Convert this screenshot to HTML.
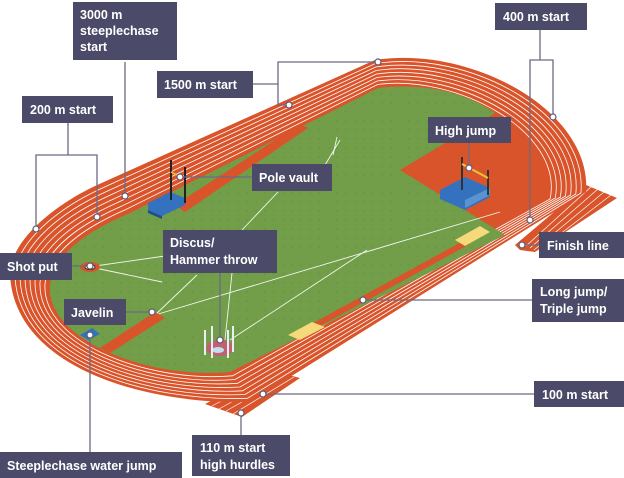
<!DOCTYPE html>
<html><head><meta charset="utf-8"><style>
html,body{margin:0;padding:0;background:#fff;width:624px;height:478px;overflow:hidden}
svg{display:block}
.lb{fill:#4b4a68}
.t{font-family:"Liberation Sans",sans-serif;font-weight:bold;font-size:12.5px;fill:#fff}
.c{stroke:#6b6a85;stroke-width:1.3;fill:none}
.d{fill:#fff;stroke:#5b5a78;stroke-width:1.2}
</style></head><body>
<svg width="624" height="478" viewBox="0 0 624 478" xmlns="http://www.w3.org/2000/svg">
<defs>
<pattern id="dots" width="9" height="9" patternUnits="userSpaceOnUse">
<rect width="9" height="9" fill="#729e49"/><circle cx="4" cy="4" r="0.6" fill="#5d8a38"/>
</pattern>
</defs>
<!-- extensions -->
<polygon points="515,245 586,185 617,198 535,252 520,250" fill="#d9542a"/>
<polygon points="205,404 270,370 300,378 242,417" fill="#d9542a"/>
<g stroke="#fff" stroke-width="0.7" fill="none">
<line x1="592" y1="186" x2="526" y2="246"/><line x1="598" y1="189" x2="530" y2="248"/><line x1="604" y1="192" x2="534" y2="250"/><line x1="611" y1="195" x2="538" y2="251"/>
<line x1="212" y1="406" x2="276" y2="372"/><line x1="219" y1="409" x2="282" y2="374"/><line x1="226" y1="411" x2="288" y2="376"/><line x1="233" y1="414" x2="294" y2="377"/>
</g>
<!-- track -->
<path d="M95 186 L375 60 C470 45 592 110 586 192 L250 402 C150 405 15 370 10 275 C10 240 55 205 95 186 Z" fill="#d9542a"/>
<g id="lanes" stroke="#fff" stroke-width="0.8" fill="none"></g>
<!-- field -->
<path d="M130 213 L378 88 C430 82 470 95 495 113 L400 170 L505 235 L230 372 C150 380 45 340 50 285 C55 250 95 228 130 213 Z" fill="url(#dots)"/>
<!-- sector lines -->
<g stroke="#fff" stroke-width="0.9" fill="none" opacity="0.9">
<line x1="95" y1="266" x2="165" y2="256"/><line x1="95" y1="268" x2="162" y2="282"/>
<line x1="155" y1="315" x2="500" y2="212"/><line x1="155" y1="315" x2="197" y2="275"/>
<line x1="225" y1="340" x2="232" y2="273"/><line x1="230" y1="340" x2="367" y2="250"/>
<line x1="242" y1="230" x2="278" y2="192"/><line x1="337" y1="137" x2="333" y2="155"/>
<line x1="310" y1="190" x2="340" y2="140"/>
</g>
<!-- pole vault runway -->
<polygon points="175,205 300,124 308,128 185,212" fill="#d9542a"/>
<polygon points="148,203 170,192 185,198 185,205 162,216 148,210" fill="#3472c0"/>
<polygon points="148,210 162,216 162,219 148,213" fill="#1f4f8c"/>
<line x1="171" y1="160" x2="171" y2="200" stroke="#222" stroke-width="2"/>
<line x1="185" y1="167" x2="185" y2="203" stroke="#222" stroke-width="2"/>
<line x1="171" y1="172" x2="183" y2="178" stroke="#f4c230" stroke-width="1.5"/>
<!-- javelin runway -->
<polygon points="100,348 155,312 165,318 110,353" fill="#d9542a"/>
<polygon points="80,335 92,328 100,334 88,340" fill="#3472c0"/>
<!-- shot put -->
<ellipse cx="90" cy="267" rx="10" ry="5" fill="#d9542a"/><ellipse cx="90" cy="267" rx="5" ry="2.5" fill="#fff" stroke="#333" stroke-width="1"/>
<!-- long jump -->
<polygon points="295,333 465,240 470,244 300,337" fill="#d9542a"/>
<polygon points="288,335 312,322 325,327 300,340" fill="#f5d97a"/>
<polygon points="455,240 480,226 490,232 465,246" fill="#f5d97a"/>
<!-- high jump -->
<polygon points="440,190 465,177 490,188 490,197 465,210 440,199" fill="#3472c0"/>
<polygon points="465,200 490,188 490,195 465,208" fill="#5a94d0"/>
<line x1="462" y1="157" x2="462" y2="190" stroke="#333" stroke-width="2"/>
<line x1="488" y1="170" x2="488" y2="195" stroke="#333" stroke-width="2"/>
<line x1="462" y1="164" x2="488" y2="178" stroke="#f4c230" stroke-width="2"/>
<!-- discus cage -->
<ellipse cx="220" cy="348" rx="14" ry="8" fill="#c06070"/>
<ellipse cx="218" cy="350" rx="6" ry="3" fill="#bfe0ef"/>
<g stroke="#e8f0f4" stroke-width="2"><line x1="205" y1="330" x2="205" y2="355"/><line x1="212" y1="326" x2="212" y2="358"/><line x1="228" y1="330" x2="228" y2="358"/><line x1="233" y1="326" x2="233" y2="352"/></g>
<!-- connectors -->
<g class="c">
<polyline points="125,62 125,196"/>
<polyline points="68,123 68,155"/><polyline points="36,229 36,155 97,155 97,217"/>
<polyline points="253,84 278,84"/><polyline points="289,105 278,105 278,62 378,62"/>
<polyline points="540,30 540,60"/><polyline points="530,220 530,60 553,60 553,117"/>
<polyline points="469,142 469,168"/>
<polyline points="252,177 180,177"/>
<polyline points="220,273 220,340"/>
<polyline points="72,266 90,266"/>
<polyline points="539,245 522,245"/>
<polyline points="126,312 152,312"/>
<polyline points="532,300 363,300"/>
<polyline points="534,394 263,394"/>
<polyline points="241,435 241,413"/>
<polyline points="90,452 90,335"/>
</g>
<g class="d">
<circle cx="125" cy="196" r="3"/><circle cx="36" cy="229" r="3"/><circle cx="97" cy="217" r="3"/>
<circle cx="289" cy="105" r="3"/><circle cx="378" cy="62" r="3"/><circle cx="530" cy="220" r="3"/><circle cx="553" cy="117" r="3"/>
<circle cx="469" cy="168" r="3"/><circle cx="180" cy="177" r="3"/><circle cx="220" cy="340" r="3"/><circle cx="90" cy="266" r="3"/>
<circle cx="522" cy="245" r="3"/><circle cx="152" cy="312" r="3"/><circle cx="363" cy="300" r="3"/><circle cx="263" cy="394" r="3"/>
<circle cx="241" cy="413" r="3"/><circle cx="90" cy="335" r="3"/>
</g>
<!-- labels -->
<rect class="lb" x="73" y="2" width="104" height="58"/><text class="t" x="80" y="19">3000 m</text><text class="t" x="80" y="35">steeplechase</text><text class="t" x="80" y="51">start</text>
<rect class="lb" x="495" y="3" width="92" height="27"/><text class="t" x="503" y="21">400 m start</text>
<rect class="lb" x="157" y="71" width="96" height="27"/><text class="t" x="164" y="89">1500 m start</text>
<rect class="lb" x="22" y="96" width="91" height="27"/><text class="t" x="30" y="114">200 m start</text>
<rect class="lb" x="428" y="117" width="83" height="26"/><text class="t" x="435" y="135">High jump</text>
<rect class="lb" x="252" y="164" width="80" height="27"/><text class="t" x="259" y="182">Pole vault</text>
<rect class="lb" x="163" y="230" width="114" height="43"/><text class="t" x="170" y="247">Discus/</text><text class="t" x="170" y="264">Hammer throw</text>
<rect class="lb" x="0" y="253" width="72" height="27"/><text class="t" x="7" y="271">Shot put</text>
<rect class="lb" x="539" y="232" width="85" height="26"/><text class="t" x="547" y="250">Finish line</text>
<rect class="lb" x="64" y="299" width="62" height="26"/><text class="t" x="71" y="317">Javelin</text>
<rect class="lb" x="532" y="279" width="92" height="43"/><text class="t" x="540" y="296">Long jump/</text><text class="t" x="540" y="313">Triple jump</text>
<rect class="lb" x="534" y="381" width="90" height="26"/><text class="t" x="542" y="399">100 m start</text>
<rect class="lb" x="192" y="435" width="98" height="41"/><text class="t" x="200" y="452">110 m start</text><text class="t" x="200" y="469">high hurdles</text>
<rect class="lb" x="0" y="452" width="182" height="26"/><text class="t" x="7" y="470">Steeplechase water jump</text>
</svg>
<script>
(function(){
var o=[95,186,375,60,470,45,592,110,586,192,250,402,150,405,15,370,10,275,10,240,55,205,95,186];
var i=[130,213,378,88,455,78,560,135,545,200,230,372,150,380,45,340,50,285,55,250,95,228,130,213];
var g=document.getElementById('lanes');
for(var k=1;k<8;k++){var f=k/8,p=[];for(var j=0;j<o.length;j++)p.push((o[j]+(i[j]-o[j])*f).toFixed(1));
var d="M"+p[0]+" "+p[1]+" L"+p[2]+" "+p[3]+" C"+p[4]+" "+p[5]+" "+p[6]+" "+p[7]+" "+p[8]+" "+p[9]+" L"+p[10]+" "+p[11]+" C"+p[12]+" "+p[13]+" "+p[14]+" "+p[15]+" "+p[16]+" "+p[17]+" C"+p[18]+" "+p[19]+" "+p[20]+" "+p[21]+" "+p[22]+" "+p[23]+" Z";
var e=document.createElementNS("http://www.w3.org/2000/svg","path");e.setAttribute("d",d);g.appendChild(e);}
})();
</script>
</body></html>
